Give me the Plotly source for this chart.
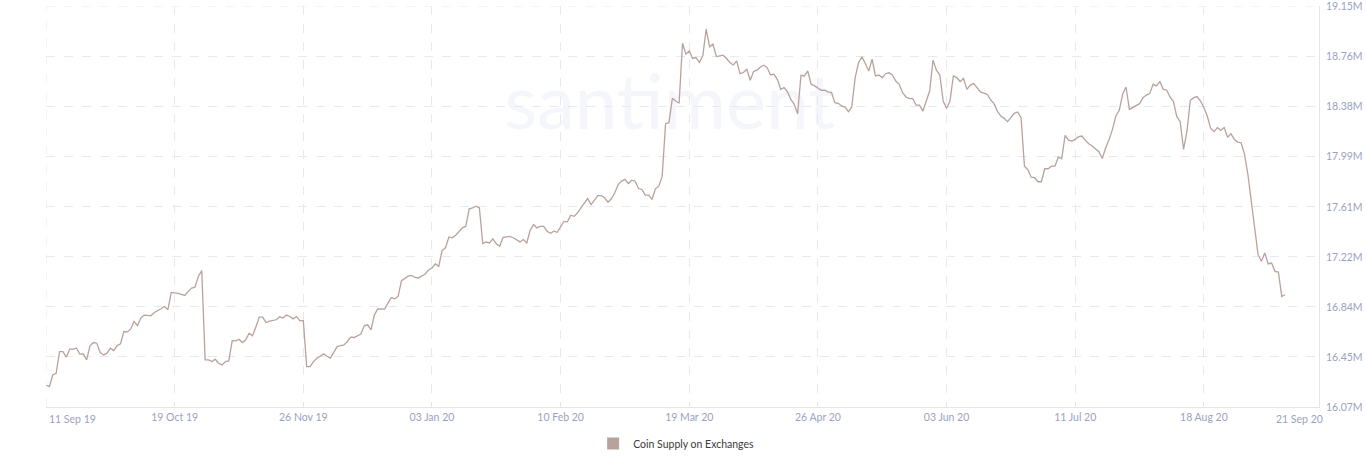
import pandas as pd
import plotly.graph_objects as go

start_date = "2019-09-11"
# Coin Supply on Exchanges, daily values (millions)
supply_m = [
    16.239, 16.226, 16.316, 16.329, 16.496, 16.496, 16.453, 16.514, 16.514, 16.522,
    16.476, 16.478, 16.432, 16.540, 16.565, 16.560, 16.488, 16.470, 16.483, 16.522,
    16.503, 16.540, 16.555, 16.650, 16.647, 16.668, 16.727, 16.694, 16.753, 16.776,
    16.773, 16.771, 16.796, 16.809, 16.825, 16.842, 16.817, 16.950, 16.947, 16.943,
    16.935, 16.927, 16.958, 16.984, 16.991, 17.073, 17.117, 16.432, 16.432, 16.419,
    16.437, 16.406, 16.393, 16.419, 16.424, 16.580, 16.578, 16.591, 16.565, 16.586,
    16.637, 16.617, 16.686, 16.761, 16.761, 16.719, 16.730, 16.735, 16.740, 16.763,
    16.753, 16.776, 16.765, 16.747, 16.765, 16.734, 16.734, 16.380, 16.380, 16.419,
    16.445, 16.460, 16.478, 16.460, 16.445, 16.490, 16.534, 16.542, 16.547, 16.573,
    16.607, 16.604, 16.620, 16.630, 16.694, 16.701, 16.663, 16.778, 16.824, 16.823,
    16.822, 16.868, 16.911, 16.901, 16.919, 17.040, 17.061, 17.075, 17.081, 17.065,
    17.061, 17.080, 17.092, 17.122, 17.138, 17.169, 17.150, 17.273, 17.292, 17.376,
    17.369, 17.389, 17.420, 17.446, 17.458, 17.592, 17.600, 17.612, 17.600, 17.325,
    17.338, 17.330, 17.361, 17.323, 17.304, 17.373, 17.377, 17.381, 17.370, 17.356,
    17.338, 17.356, 17.330, 17.427, 17.471, 17.446, 17.458, 17.458, 17.420, 17.404,
    17.420, 17.412, 17.450, 17.496, 17.492, 17.543, 17.535, 17.561, 17.600, 17.638,
    17.671, 17.625, 17.656, 17.694, 17.694, 17.677, 17.643, 17.669, 17.715, 17.779,
    17.805, 17.818, 17.787, 17.812, 17.804, 17.748, 17.741, 17.697, 17.697, 17.664,
    17.746, 17.766, 17.843, 18.246, 18.254, 18.441, 18.420, 18.403, 18.864, 18.780,
    18.805, 18.747, 18.754, 18.716, 18.767, 18.972, 18.836, 18.857, 18.762, 18.767,
    18.772, 18.747, 18.716, 18.697, 18.728, 18.631, 18.639, 18.664, 18.580, 18.647,
    18.657, 18.682, 18.695, 18.677, 18.620, 18.626, 18.587, 18.510, 18.523, 18.490,
    18.433, 18.395, 18.323, 18.618, 18.613, 18.651, 18.549, 18.536, 18.518, 18.503,
    18.503, 18.490, 18.485, 18.408, 18.403, 18.382, 18.374, 18.339, 18.374, 18.600,
    18.716, 18.759, 18.708, 18.651, 18.741, 18.613, 18.620, 18.599, 18.630, 18.637,
    18.620, 18.574, 18.549, 18.485, 18.451, 18.439, 18.439, 18.389, 18.389, 18.343,
    18.420, 18.497, 18.734, 18.657, 18.620, 18.420, 18.362, 18.420, 18.613, 18.600,
    18.570, 18.593, 18.510, 18.543, 18.554, 18.520, 18.490, 18.480, 18.472, 18.430,
    18.400, 18.343, 18.305, 18.287, 18.262, 18.292, 18.326, 18.336, 18.292, 17.920,
    17.894, 17.835, 17.831, 17.800, 17.800, 17.900, 17.900, 17.920, 17.920, 17.989,
    17.977, 18.156, 18.120, 18.112, 18.125, 18.146, 18.151, 18.118, 18.092, 18.075,
    18.056, 18.031, 17.979, 18.062, 18.125, 18.202, 18.305, 18.349, 18.472, 18.528,
    18.356, 18.369, 18.387, 18.400, 18.446, 18.466, 18.477, 18.549, 18.536, 18.570,
    18.510, 18.505, 18.451, 18.416, 18.300, 18.259, 18.048, 18.189, 18.426, 18.446,
    18.454, 18.420, 18.369, 18.305, 18.210, 18.185, 18.216, 18.195, 18.216, 18.143,
    18.169, 18.125, 18.105, 18.100, 18.010, 17.856, 17.650, 17.446, 17.240, 17.189,
    17.253, 17.169, 17.176, 17.112, 17.107, 16.919, 16.932,
]

y_tick_vals_m = [16.07, 16.455, 16.84, 17.225, 17.61, 17.995, 18.38, 18.765, 19.15]
y_tick_text = ["16.07M", "16.45M", "16.84M", "17.22M", "17.61M", "17.99M", "18.38M", "18.76M", "19.15M"]

x_tick_dates = ["2019-10-19", "2019-11-26", "2020-01-03", "2020-02-10", "2020-03-19",
                "2020-04-26", "2020-06-03", "2020-07-11", "2020-08-18"]
x_tick_text = ["19 Oct 19", "26 Nov 19", "03 Jan 20", "10 Feb 20", "19 Mar 20",
               "26 Apr 20", "03 Jun 20", "11 Jul 20", "18 Aug 20"]
x_range = ["2019-09-11", "2020-09-21"]
first_label = "11 Sep 19"
last_label = "21 Sep 20"

series_name = "Coin Supply on Exchanges"
line_color = "#b8a29c"
grid_color = "#e6e9f4"
axis_color = "#e2e5f0"
label_color = "#9aa2bf"
label_size = 10.5

dates = pd.date_range(start=start_date, periods=len(supply_m), freq="D")
values = [v * 1e6 for v in supply_m]

fig = go.Figure()
fig.add_trace(go.Scatter(
    x=dates, y=values, mode="lines",
    line=dict(color=line_color, width=1.3),
    name=series_name, showlegend=False, hoverinfo="x+y",
))
fig.add_trace(go.Scatter(
    x=[None], y=[None], mode="markers",
    marker=dict(symbol="square", size=8, color=line_color),
    name=series_name, showlegend=True,
))

font_family = "Lato, 'Open Sans', sans-serif"

fig.update_layout(
    width=1366, height=462,
    margin=dict(l=46, r=47, t=6, b=55, autoexpand=False),
    paper_bgcolor="white", plot_bgcolor="white",
    font=dict(family=font_family, size=label_size, color=label_color),
    showlegend=True,
    legend=dict(orientation="h", x=0.495, xanchor="center", y=-0.055, yanchor="top",
                font=dict(size=10.5, color="#3b3b3b"), itemsizing="constant",
                itemwidth=30),
    xaxis=dict(
        type="date", range=x_range,
        tickvals=x_tick_dates, ticktext=x_tick_text,
        showgrid=True, gridcolor=grid_color, griddash="dash", gridwidth=1,
        showline=True, linecolor=axis_color, linewidth=1,
        ticks="inside", ticklen=5, tickcolor=axis_color,
        tickfont=dict(size=label_size, color=label_color),
        zeroline=False,
    ),
    yaxis=dict(
        side="right", range=[y_tick_vals_m[0] * 1e6, y_tick_vals_m[-1] * 1e6],
        tickvals=[v * 1e6 for v in y_tick_vals_m],
        showticklabels=False,
        showgrid=True, gridcolor=grid_color, griddash="dash", gridwidth=1,
        showline=True, linecolor=axis_color, linewidth=1,
        ticks="", zeroline=False,
    ),
)

# top grid line (at the range edge)
fig.add_shape(type="line", xref="paper", yref="y", x0=0, x1=1,
              y0=y_tick_vals_m[-1] * 1e6, y1=y_tick_vals_m[-1] * 1e6,
              line=dict(color=grid_color, width=1, dash="dash"))

# y-axis labels on the right, left-aligned next to the axis line
for v, t in zip(y_tick_vals_m, y_tick_text):
    fig.add_annotation(text=t, xref="paper", yref="y", x=1, y=v * 1e6,
                       xanchor="left", yanchor="middle", xshift=5, showarrow=False,
                       font=dict(size=label_size, color=label_color, family=font_family))

# left vertical grid line at the axis start (dashed) and edge date labels
fig.add_shape(type="line", xref="x", yref="paper", x0=x_range[0], x1=x_range[0], y0=0, y1=1,
              line=dict(color=grid_color, width=1, dash="dash"))
fig.add_annotation(text=first_label, xref="x", yref="paper", x=x_range[0], y=0,
                   xanchor="left", yanchor="top", yshift=-4, xshift=1, showarrow=False,
                   font=dict(size=label_size, color=label_color, family=font_family))
fig.add_annotation(text=last_label, xref="x", yref="paper", x=x_range[1], y=0,
                   xanchor="right", yanchor="top", yshift=-4, xshift=6, showarrow=False,
                   font=dict(size=label_size, color=label_color, family=font_family))

# faint watermark drawn below the data line
fig.add_shape(type="rect", xref="paper", yref="paper", x0=0.36, x1=0.62, y0=0.66, y1=0.88,
              layer="below", line=dict(width=0), fillcolor="rgba(0,0,0,0)",
              label=dict(text="santiment", textposition="middle center",
                         font=dict(size=76, color="#f5f6fb", family=font_family)))

fig.write_html("out.html", config={"displayModeBar": False},
               post_script="document.body.style.margin='0';document.body.style.overflow='hidden';")
